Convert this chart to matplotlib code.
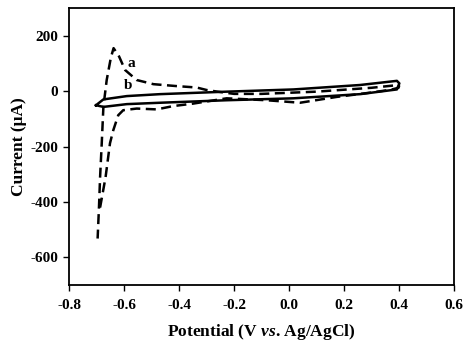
import numpy as np
import matplotlib.pyplot as plt

# curve a (dashed), traced as one path
a_v = [-0.687, -0.667, -0.651, -0.639, -0.621, -0.603, -0.554, -0.481, -0.421,
       -0.348, -0.227, -0.081, 0.04, 0.173, 0.30, 0.37, 0.398, 0.40, 0.398,
       0.3, 0.2, 0.1, 0.0, -0.1, -0.2, -0.26, -0.30, -0.336, -0.408, -0.493,
       -0.554, -0.596, -0.618, -0.638, -0.648, -0.663, -0.675, -0.681, -0.687,
       -0.691, -0.696]
a_i = [-420, -310, -188, -141, -87, -69, -63, -66, -54,
       -45, -26, -33, -42, -21, -5, 5, 12, 18, 22,
       12, 5, -2, -6, -10, -10, -2, 4, 13, 18, 25,
       40, 76, 125, 155, 120, 40, -57, -188, -310,
       -418, -532]

# curve b (solid), closed loop
b_v = [-0.702, -0.675, -0.59, -0.469, -0.227, 0.016, 0.258, 0.392, 0.401,
       0.392, 0.258, 0.016, -0.227, -0.469, -0.59, -0.675, -0.702]
b_i = [-51, -30, -18, -11, -2, 6, 22, 37, 28,
       6, -11, -26, -33, -42, -47, -57, -51]

xticks = [-0.8, -0.6, -0.4, -0.2, 0.0, 0.2, 0.4, 0.6]
yticks = [-600, -400, -200, 0, 200]

plt.rcParams['font.family'] = ['Liberation Serif', 'DejaVu Serif']
plt.rcParams['font.weight'] = 'bold'
plt.rcParams['axes.unicode_minus'] = False
plt.rcParams['mathtext.fontset'] = 'custom'
plt.rcParams['mathtext.rm'] = 'Liberation Serif:bold'
plt.rcParams['mathtext.it'] = 'Liberation Serif:italic:bold'
plt.rcParams['mathtext.bf'] = 'Liberation Serif:bold'

fig = plt.figure(figsize=(4.74, 3.46), dpi=100)
ax = fig.add_axes([0.1456, 0.176, 0.8124, 0.801])

ax.plot(a_v, a_i, color='black', lw=1.8, ls=(0, (4, 2.2)))
ax.plot(b_v, b_i, color='black', lw=1.8)

ax.text(-0.575, 101, 'a', fontsize=11, fontweight='bold', ha='center', va='center')
ax.text(-0.584, 22, 'b', fontsize=11, fontweight='bold', ha='center', va='center')

ax.set_xlim(-0.8, 0.6)
ax.set_ylim(-700, 300)
ax.set_xticks(xticks)
ax.set_xticklabels(['%.1f' % x for x in xticks])
ax.set_yticks(yticks)
ax.tick_params(direction='out', length=4, width=1, labelsize=11, top=False, right=False)
ax.tick_params(axis='x', pad=6)
ax.tick_params(axis='y', pad=4)
for s in ax.spines.values():
    s.set_linewidth(1.3)

ax.set_xlabel('Potential (V $\\it{vs}$. Ag/AgCl)', fontsize=12.5, fontweight='bold', labelpad=7)
ax.set_ylabel('Current (μA)', fontsize=12.5, fontweight='bold', labelpad=2)

fig.savefig('out.png', dpi=100)
